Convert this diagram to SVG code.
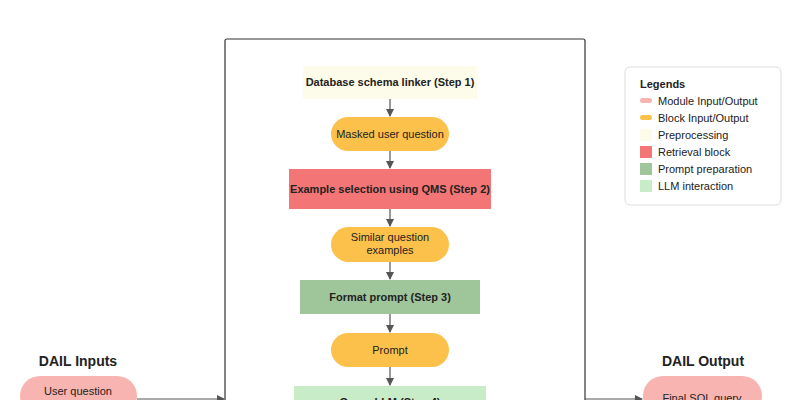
<svg xmlns="http://www.w3.org/2000/svg" width="800" height="400" viewBox="0 0 800 400">
<defs>
<marker id="ah" markerWidth="8" markerHeight="8" refX="7" refY="4" orient="auto" markerUnits="userSpaceOnUse"><path d="M0,0 L8,4 L0,8 Z" fill="#555"/></marker>
<style>
text{font-family:"Liberation Sans",Arial,sans-serif;fill:#222;text-anchor:middle}
.b{font-weight:bold;font-size:11px}
.n{font-size:11px}
.h{font-weight:bold;font-size:14px}
.l{font-size:11px;text-anchor:start}
.c{stroke:#555;stroke-width:1.2;fill:none;marker-end:url(#ah)}
</style>
</defs>
<rect width="800" height="400" fill="#fff"/>
<rect x="225" y="39" width="360" height="380" fill="none" stroke="#333" stroke-width="1.2" rx="2"/>
<g id="connectors">
<line class="c" x1="390" y1="99" x2="390" y2="116"/>
<line class="c" x1="390" y1="151" x2="390" y2="168"/>
<line class="c" x1="390" y1="209" x2="390" y2="226"/>
<line class="c" x1="390" y1="262" x2="390" y2="279"/>
<line class="c" x1="390" y1="314" x2="390" y2="332"/>
<line class="c" x1="390" y1="367" x2="390" y2="385"/>
<line class="c" x1="137" y1="399" x2="224" y2="399"/>
<line class="c" x1="585" y1="399" x2="642" y2="399"/>
</g>
<g id="schema"><rect x="303" y="66" width="174" height="33" fill="#fdfbe9"/><text class="b" x="390" y="86">Database schema linker (Step 1)</text></g>
<g id="masked"><rect x="331" y="117" width="118" height="34" rx="17" fill="#fbc14a"/><text class="n" x="390" y="138">Masked user question</text></g>
<g id="example"><rect x="289" y="169" width="202" height="40" fill="#f47575"/><text class="b" x="390" y="193">Example selection using QMS (Step 2)</text></g>
<g id="similar"><rect x="331" y="227" width="118" height="35" rx="17.5" fill="#fbc14a"/><text class="n" x="390" y="241">Similar question</text><text class="n" x="390" y="254">examples</text></g>
<g id="format"><rect x="300" y="280" width="180" height="34" fill="#9fc59a"/><text class="b" x="390" y="301">Format prompt (Step 3)</text></g>
<g id="prompt"><rect x="331" y="333" width="118" height="34" rx="17" fill="#fbc14a"/><text class="n" x="390" y="354">Prompt</text></g>
<g id="query"><rect x="294" y="386" width="192" height="34" fill="#c8ebc8"/><text class="b" x="390" y="406">Query LLM (Step 4)</text></g>
<g id="inputs"><text class="h" x="78" y="366">DAIL Inputs</text><rect x="20" y="376" width="117" height="40" rx="20" fill="#f8b4b0"/><text class="n" x="78" y="395">User question</text></g>
<g id="output"><text class="h" x="703" y="366">DAIL Output</text><rect x="643" y="376" width="119" height="40" rx="20" fill="#f8b4b0"/><text class="n" x="702" y="402">Final SQL query</text></g>
<g id="legend">
<rect x="625" y="67" width="156" height="138" rx="5" fill="#fff" stroke="#ddd"/>
<text class="l" x="640" y="88" style="font-weight:bold">Legends</text>
<rect x="640" y="98" width="12" height="5" rx="2.5" fill="#f8b4b0"/><text class="l" x="658" y="105">Module Input/Output</text>
<rect x="640" y="115" width="12" height="5" rx="2.5" fill="#fbc14a"/><text class="l" x="658" y="122">Block Input/Output</text>
<rect x="640" y="129" width="12" height="12" fill="#fdfbe9"/><text class="l" x="658" y="139">Preprocessing</text>
<rect x="640" y="146" width="12" height="12" fill="#f47575"/><text class="l" x="658" y="156">Retrieval block</text>
<rect x="640" y="163" width="12" height="12" fill="#9fc59a"/><text class="l" x="658" y="173">Prompt preparation</text>
<rect x="640" y="180" width="12" height="12" fill="#c8ebc8"/><text class="l" x="658" y="190">LLM interaction</text>
</g>
</svg>
